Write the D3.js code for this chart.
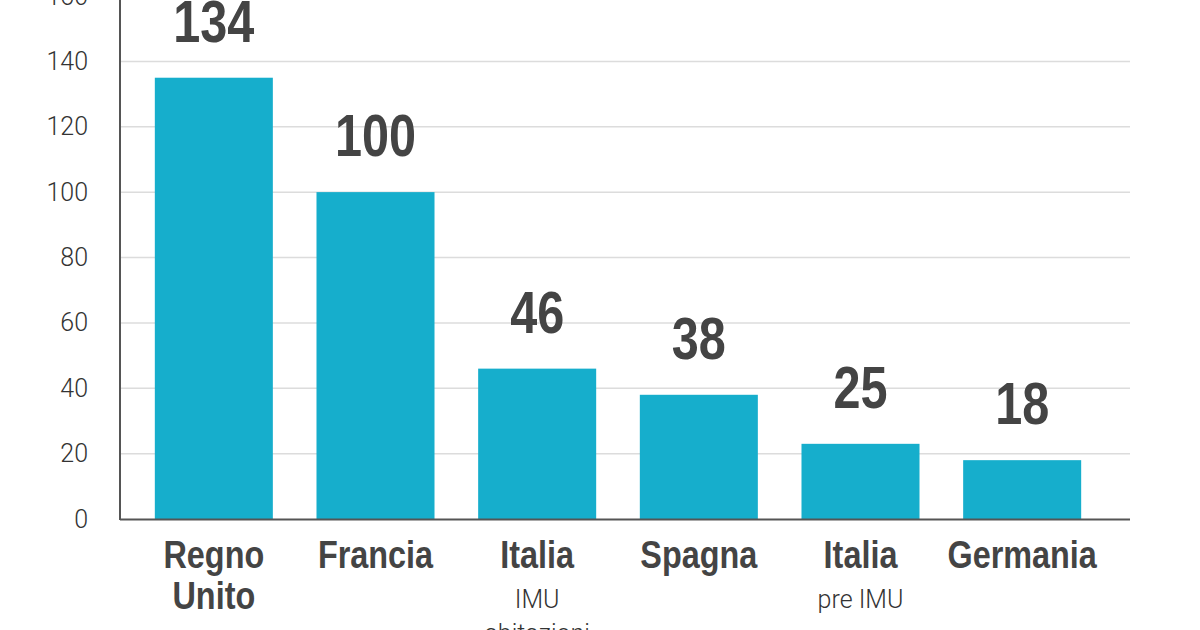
<!DOCTYPE html>
<html><head><meta charset="utf-8">
<script src="https://cdn.jsdelivr.net/npm/d3@7"></script>
<style>body{margin:0;background:#fff}</style></head>
<body><svg id="c" width="1200" height="630"></svg>
<script>
const categories = ["Regno Unito","Francia","Italia IMU","Spagna","Italia pre IMU","Germania"];
const nameLines = [["Regno","Unito"],["Francia"],["Italia"],["Spagna"],["Italia"],["Germania"]];
const subLines = [[],[],["IMU","abitazioni"],[],["pre IMU"],[]];
const values = [135,100,46,38,23,18];
const valueLabels = ["134","100","46","38","25","18"];
const yTicks = [0,20,40,60,80,100,120,140,160];

const svg = d3.select("#c");
const y = d3.scaleLinear().domain([0,160]).range([519,-4]);
const x = d3.scaleBand().domain(categories).range([133,1103]).paddingInner(0.27).paddingOuter(0.135);
const narrow = "'Liberation Sans Narrow','Arial Narrow',sans-serif";

svg.append("g").selectAll("line").data(yTicks.filter(d=>d>0)).join("line")
  .attr("x1",120).attr("x2",1130).attr("y1",d=>y(d)).attr("y2",d=>y(d))
  .attr("stroke","#dcdcdc").attr("stroke-width",1.5);

const ax = svg.append("g").attr("transform","translate(120,0)")
  .call(d3.axisLeft(y).tickValues(yTicks).tickSize(0).tickPadding(32));
ax.select(".domain").remove();
ax.selectAll("text").attr("font-family","Roboto,sans-serif").attr("font-weight",300)
  .attr("font-size",25).attr("fill","#333");

svg.selectAll("rect.bar").data(values).join("rect")
  .attr("x",(d,i)=>x(categories[i])).attr("width",x.bandwidth())
  .attr("y",d=>y(d)).attr("height",d=>y(0)-y(d)).attr("fill","#16aecc");

svg.selectAll("text.val").data(valueLabels).join("text")
  .attr("transform",(d,i)=>`translate(${x(categories[i])+x.bandwidth()/2},${y(values[i])-36}) scale(0.9,1.1)`)
  .attr("text-anchor","middle")
  .attr("font-family",narrow).attr("font-weight","bold").attr("font-size",54)
  .attr("fill","#444").text(d=>d);

svg.append("line").attr("x1",120).attr("x2",120).attr("y1",0).attr("y2",520).attr("stroke","#555").attr("stroke-width",2);
svg.append("line").attr("x1",120).attr("x2",1130).attr("y1",519.5).attr("y2",519.5).attr("stroke","#555").attr("stroke-width",2);

categories.forEach((c,i)=>{
  const cx = x(c)+x.bandwidth()/2;
  nameLines[i].forEach((t,j)=>svg.append("text")
    .attr("transform",`translate(${cx},${568+j*41}) scale(0.9,1.08)`)
    .attr("text-anchor","middle").attr("font-family",narrow).attr("font-weight","bold")
    .attr("font-size",36).attr("fill","#444").text(t));
  subLines[i].forEach((t,j)=>svg.append("text").attr("x",cx).attr("y",608+j*34)
    .attr("text-anchor","middle").attr("font-family","Roboto,sans-serif").attr("font-weight",300)
    .attr("font-size",25).attr("fill","#333").text(t));
});
</script></body></html>
